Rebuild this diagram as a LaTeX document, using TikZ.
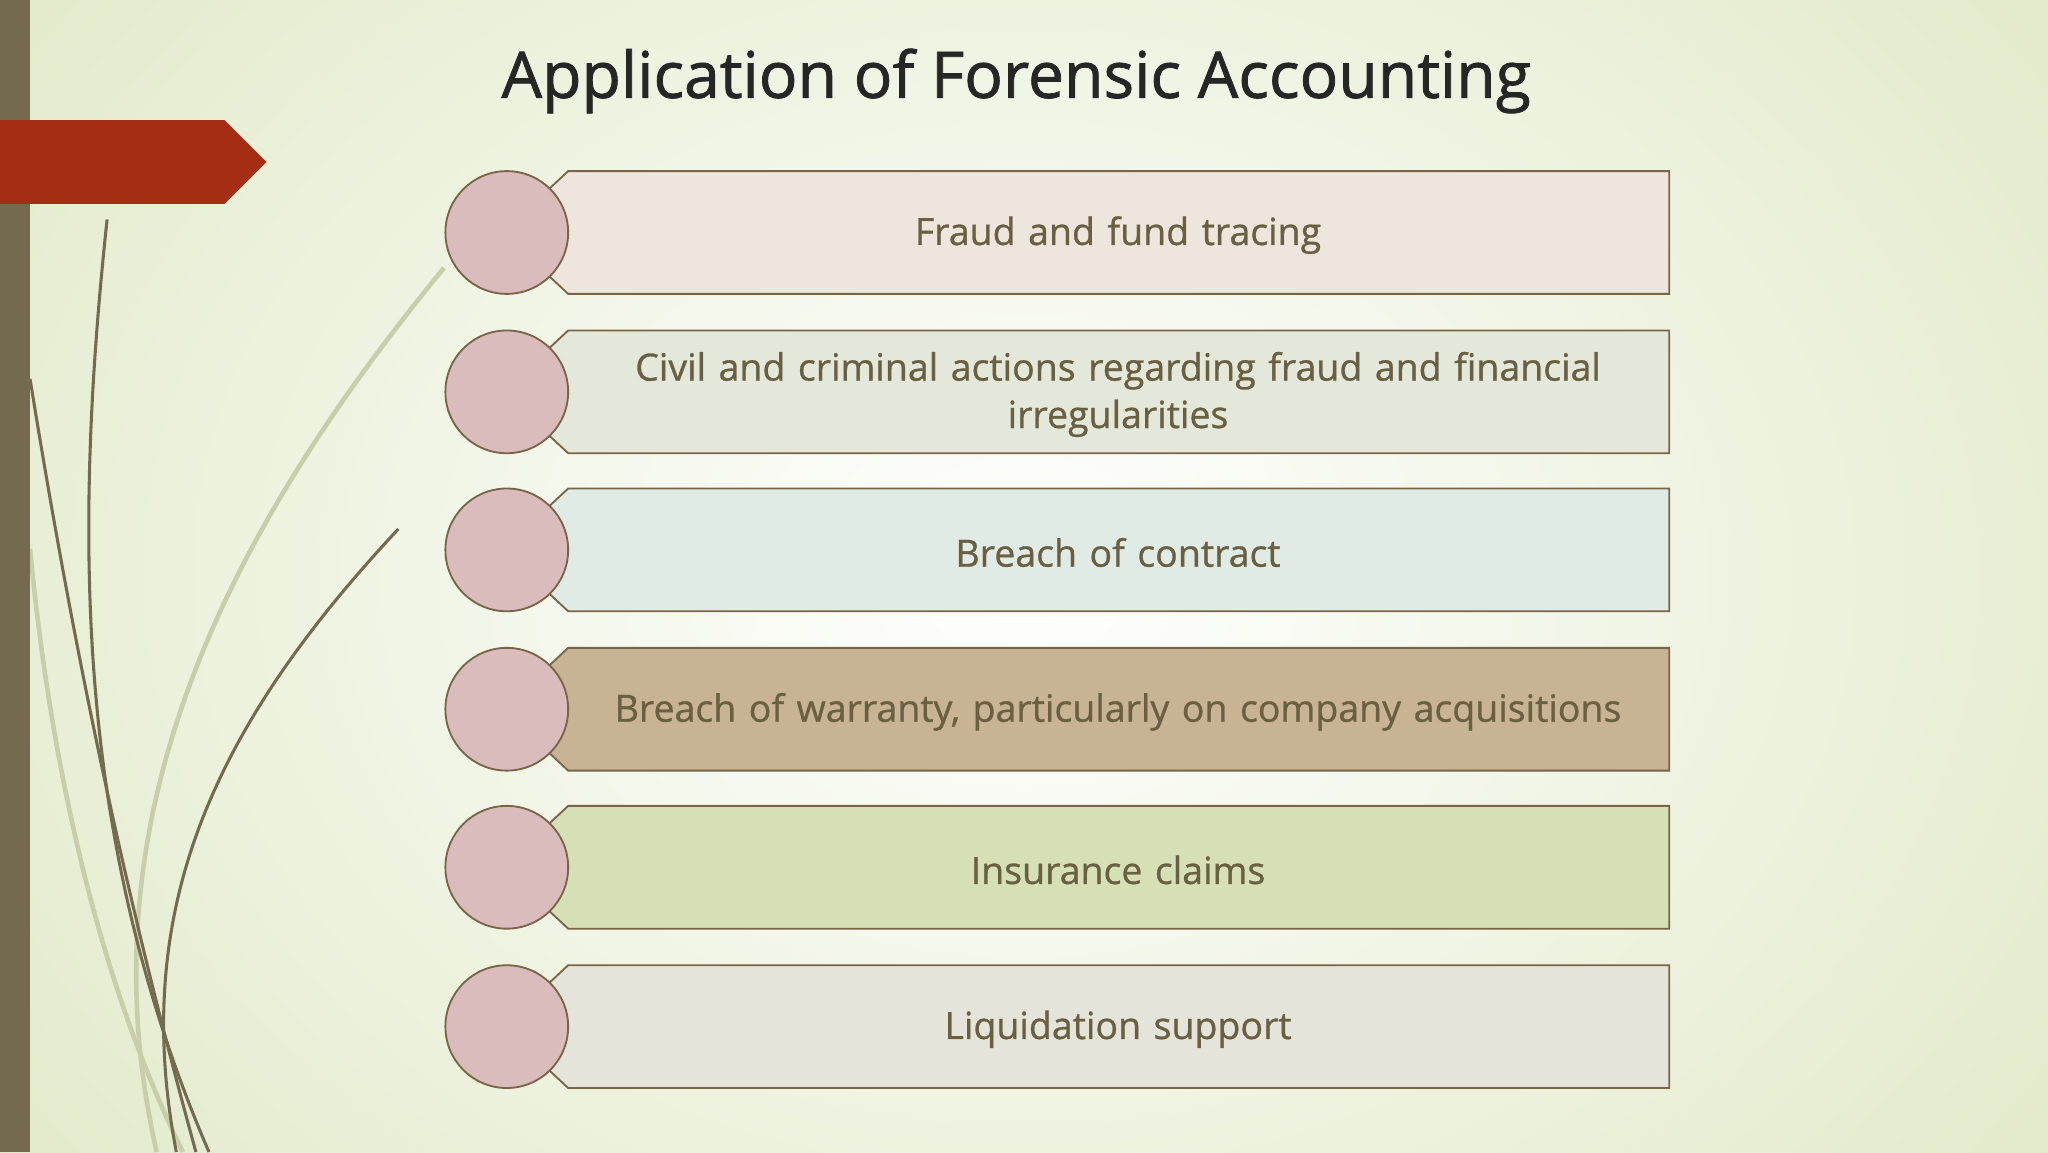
\documentclass[tikz,border=0pt]{standalone}
\usepackage{fontspec}
\setmainfont{Open Sans}
\newfontfamily\titlefont[FakeBold=1.2]{Open Sans}
\newfontfamily\rowfont[FakeBold=0.8]{Open Sans}
\definecolor{bgout}{RGB}{222,232,196}
\definecolor{bar}{RGB}{115,106,80}
\definecolor{redarrow}{RGB}{165,45,20}
\definecolor{edge}{RGB}{120,100,70}
\definecolor{circ}{RGB}{218,188,188}
\definecolor{txt}{RGB}{105,95,65}
\definecolor{fa}{RGB}{238,230,220}
\definecolor{fb}{RGB}{228,232,218}
\definecolor{fc}{RGB}{225,235,230}
\definecolor{fd}{RGB}{200,180,148}
\definecolor{fe}{RGB}{213,224,183}
\definecolor{ff}{RGB}{228,228,218}
\definecolor{lightcurve}{RGB}{200,205,170}
\tikzset{
 rowbox/.style={draw=edge,line width=1.2pt},
 bullet/.style={circle,draw=edge,line width=1.2pt,fill=circ,minimum size=94*0.03cm,inner sep=0pt},
 rowtext/.style={text=txt,font=\rowfont\fontsize{24.5}{31}\selectfont,align=center,text width=24cm},
 curve/.style={draw=bar,line width=2pt},
 lcurve/.style={draw=lightcurve,line width=3pt}
}
\begin{document}
\begin{tikzpicture}[x=0.03cm,y=-0.03cm]
\useasboundingbox (0,0) rectangle (1568,882);
\shade[inner color=white,outer color=bgout] (-300,-400) rectangle (1868,1282);
\clip (0,0) rectangle (1568,882);
% decorative curves
\draw[lcurve] (340,205) .. controls (180,400) and (60,620) .. (120,882);
\draw[lcurve] (23,420) .. controls (40,600) and (80,760) .. (140,882);
\draw[curve] (82,168) .. controls (55,420) and (60,650) .. (160,882);
\draw[curve] (23,290) .. controls (60,520) and (100,700) .. (150,882);
\draw[curve] (305,405) .. controls (160,560) and (100,700) .. (135,882);
\fill[bar] (0,0) rectangle (23,882);
\fill[redarrow] (0,92) -- (172,92) -- (204,124) -- (172,156) -- (0,156) -- cycle;
\node[font=\titlefont\fontsize{42}{50}\selectfont,text=black!85] (title) at (778,62) {Application of Forensic Accounting};
\foreach \y/\c/\t [count=\i] in {178/fa/{Fraud and fund tracing},
 300/fb/{Civil and criminal actions regarding fraud and financial\\irregularities},
 421/fc/{Breach of contract},
 543/fd/{Breach of warranty, particularly on company acquisitions},
 664/fe/{Insurance claims},
 786/ff/{Liquidation support}}{
 \draw[rowbox,fill=\c] (435,\y-47) -- (1278,\y-47) -- (1278,\y+47) -- (435,\y+47) -- (420,\y+33) -- (420,\y-33) -- cycle;
 \node[rowtext] (t\i) at (856,\y+2) {\t};
 \node[bullet] (c\i) at (388,\y) {};
}
\end{tikzpicture}
\end{document}
